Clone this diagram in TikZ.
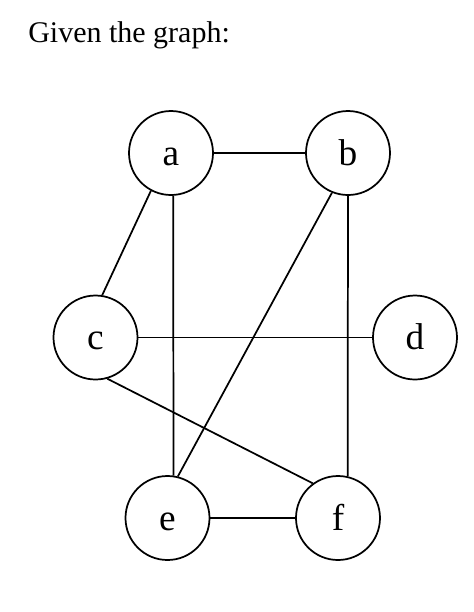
\documentclass[tikz,border=0pt]{standalone}
\usepackage{fontspec}
\setmainfont{Liberation Serif}
\usepackage{tikz}
\usetikzlibrary{positioning,calc}

\begin{document}
\begin{tikzpicture}[x=0.75pt,y=-0.75pt,
        vertex/.style={circle, draw, line width=1.3pt, minimum size=63pt, inner sep=0pt,
                       text height=20pt, text depth=2pt,
                       font=\fontsize{28}{32}\selectfont},
        edge/.style={line width=1.3pt}]
            \useasboundingbox (0,0) rectangle (474,612);
            \node[anchor=base west, inner sep=0pt, font=\fontsize{22.5}{27}\selectfont] (title) at (28,42) {Given the graph:};

            \node[vertex] (a) at (171,153) {a};
            \node[vertex] (b) at (348,153) {b};
            \node[vertex] (c) at (95.5,337.5) {c};
            \node[vertex] (d) at (415,337.5) {d};
            \node[vertex] (e) at (167.5,518) {e};
            \node[vertex] (f) at (338,518) {f};

            \draw[edge] (a.east) -- (b.west);
            \draw[edge] (a.242) -- (c.81);
            \draw[edge] (a.-87) -- (e.82);
            \draw[edge] (b.248) -- (e.76);
            \draw[edge] (b.south) -- (f.77);
            \draw[edge] (c) -- (d);
            \draw[edge] (c.-74) -- (f.126);
            \draw[edge] (e) -- (f);
        \end{tikzpicture}
\end{document}
